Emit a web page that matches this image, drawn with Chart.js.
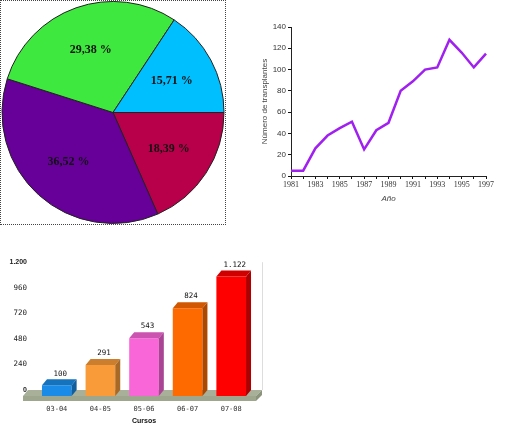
<!DOCTYPE html>
<html>
<head>
<meta charset="utf-8">
<script src="https://cdn.jsdelivr.net/npm/chart.js@4/dist/chart.umd.min.js"></script>
<style>
  html, body { margin: 0; padding: 0; background: #fff; }
  body { width: 505px; height: 426px; position: relative; overflow: hidden; }
  .box { position: absolute; }
  #pieBox { left: 0; top: 0; width: 224px; height: 223px; border: 1px dotted #444; }
  #lineBox { left: 250px; top: 10px; width: 250px; height: 210px; }
  #barBox { left: 0; top: 250px; width: 270px; height: 176px; }
</style>
</head>
<body>
<div class="box" id="pieBox"><canvas id="pieChart"></canvas></div>
<div class="box" id="lineBox"><canvas id="lineChart"></canvas></div>
<div class="box" id="barBox"><canvas id="barChart"></canvas></div>

<script>
// Tarta (en sentido horario desde las 3)
const pieValues = [18.39, 36.52, 29.38, 15.71];
const pieColors = ["#b8004a", "#660099", "#3fe83f", "#00bfff"];

// Transplantes por año
const years = ["1981", "1982", "1983", "1984", "1985", "1986", "1987", "1988", "1989",
  "1990", "1991", "1992", "1993", "1994", "1995", "1996", "1997"];
const transplantes = [5, 5, 26, 38, 45, 51, 25, 43, 50, 80, 89, 100, 102, 128, 116, 102, 115];

// Cursos
const cursos = ["03-04", "04-05", "05-06", "06-07", "07-08"];
const alumnos = [100, 291, 543, 824, 1122];
const barColors = ["#1a8ce8", "#f89b38", "#f866d8", "#ff6a00", "#ff0000"];

function fmtNum(n) {
  return String(n).replace(/\B(?=(\d{3})+(?!\d))/g, ".");
}

function shade(hex, f) {
  const n = parseInt(hex.slice(1), 16);
  const r = Math.round(((n >> 16) & 255) * f);
  const g = Math.round(((n >> 8) & 255) * f);
  const b = Math.round((n & 255) * f);
  return `rgb(${r},${g},${b})`;
}

// ---- Pie ----
const pieLabels = {
  id: "pieLabels",
  afterDatasetsDraw(chart) {
    const ctx = chart.ctx;
    ctx.save();
    ctx.font = "bold 12px 'Liberation Serif'";
    ctx.fillStyle = "#111";
    ctx.textAlign = "center";
    ctx.textBaseline = "middle";
    chart.getDatasetMeta(0).data.forEach((arc, i) => {
      const p = arc.getProps(["x", "y", "startAngle", "endAngle", "outerRadius"], true);
      const mid = (p.startAngle + p.endAngle) / 2;
      const r = p.outerRadius * 0.6;
      const txt = pieValues[i].toFixed(2).replace(".", ",") + " %";
      ctx.fillText(txt, p.x + Math.cos(mid) * r, p.y + Math.sin(mid) * r);
    });
    ctx.restore();
  },
};

new Chart(document.getElementById("pieChart"), {
  type: "pie",
  data: {
    labels: pieValues.map((v) => v + " %"),
    datasets: [{
      data: pieValues,
      backgroundColor: pieColors,
      borderColor: "#222",
      borderWidth: 1,
    }],
  },
  options: {
    responsive: true,
    maintainAspectRatio: false,
    animation: false,
    rotation: 90,
    layout: { padding: 0 },
    plugins: { legend: { display: false }, tooltip: { enabled: false } },
  },
  plugins: [pieLabels],
});

// ---- Line ----
new Chart(document.getElementById("lineChart"), {
  type: "line",
  data: {
    labels: years,
    datasets: [{
      data: transplantes,
      borderColor: "#a020f0",
      borderWidth: 2.5,
      pointRadius: 0,
      tension: 0,
      fill: false,
    }],
  },
  options: {
    responsive: true,
    maintainAspectRatio: false,
    animation: false,
    layout: { padding: { top: 17, right: 14, left: 0, bottom: 0 } },
    plugins: { legend: { display: false }, tooltip: { enabled: false } },
    scales: {
      x: {
        offset: false,
        afterFit: (s) => { s.height = 44; },
        border: { display: true, color: "#222", width: 1 },
        grid: { display: true, drawOnChartArea: false, drawTicks: true, tickLength: 3, color: "#111" },
        ticks: {
          autoSkip: false,
          maxRotation: 0,
          padding: 1,
          color: "#333",
          font: { family: "'Liberation Serif'", size: 8 },
          callback: (v, i) => (i % 2 === 0 ? years[i] : ""),
        },
        title: {
          display: true,
          text: "Año",
          color: "#444",
          font: { family: "'Liberation Sans'", size: 8, style: "italic" },
          padding: { top: 2, bottom: 16 },
        },
      },
      y: {
        min: 0,
        max: 140,
        afterFit: (s) => { s.width = 41; },
        border: { display: true, color: "#222", width: 1 },
        grid: { display: true, drawOnChartArea: false, drawTicks: true, tickLength: 3, color: "#111" },
        ticks: {
          stepSize: 20,
          padding: 2,
          color: "#333",
          font: { family: "'Liberation Sans'", size: 8 },
        },
        title: {
          display: true,
          text: "Número de transplantes",
          color: "#444",
          font: { family: "'Liberation Sans'", size: 8 },
          padding: { top: 10, bottom: 4 },
        },
      },
    },
  },
});

// ---- Bar 3D ----
const DX = 5, DY = 6, SHIFT = 6;
const bar3d = {
  id: "bar3d",
  beforeDatasetsDraw(chart) {
    const ctx = chart.ctx;
    const a = chart.chartArea;
    const y0 = chart.scales.y.getPixelForValue(0);
    // fondo derecho
    ctx.save();
    ctx.strokeStyle = "#ddd";
    ctx.lineWidth = 1;
    ctx.beginPath();
    ctx.moveTo(a.right + 9.5, a.top);
    ctx.lineTo(a.right + 9.5, y0);
    ctx.stroke();
    // suelo
    const fl = a.left - 12, fr = a.right + 3;
    ctx.fillStyle = "#a9b09a";
    ctx.beginPath();
    ctx.moveTo(fl + 5, y0);
    ctx.lineTo(fr + 6, y0);
    ctx.lineTo(fr, y0 + SHIFT);
    ctx.lineTo(fl, y0 + SHIFT);
    ctx.closePath();
    ctx.fill();
    ctx.fillStyle = "#9ea68e";
    ctx.fillRect(fl, y0 + SHIFT, fr - fl, 5);
    ctx.fillStyle = "#8c937c";
    ctx.beginPath();
    ctx.moveTo(fr, y0 + SHIFT);
    ctx.lineTo(fr + 6, y0);
    ctx.lineTo(fr + 6, y0 + 5);
    ctx.lineTo(fr, y0 + SHIFT + 5);
    ctx.closePath();
    ctx.fill();
    ctx.restore();
    ctx.save();
    ctx.translate(0, SHIFT);
  },
  afterDatasetsDraw(chart) {
    const ctx = chart.ctx;
    chart.getDatasetMeta(0).data.forEach((bar, i) => {
      const p = bar.getProps(["x", "y", "base", "width"], true);
      const l = p.x - p.width / 2, r = p.x + p.width / 2;
      ctx.fillStyle = shade(barColors[i], 0.82);
      ctx.beginPath();
      ctx.moveTo(l, p.y);
      ctx.lineTo(l + DX, p.y - DY);
      ctx.lineTo(r + DX, p.y - DY);
      ctx.lineTo(r, p.y);
      ctx.closePath();
      ctx.fill();
      ctx.fillStyle = shade(barColors[i], 0.68);
      ctx.beginPath();
      ctx.moveTo(r, p.y);
      ctx.lineTo(r + DX, p.y - DY);
      ctx.lineTo(r + DX, p.base - DY);
      ctx.lineTo(r, p.base);
      ctx.closePath();
      ctx.fill();
      ctx.fillStyle = "#111";
      ctx.font = "7.5px 'DejaVu Sans Mono'";
      ctx.textAlign = "center";
      ctx.textBaseline = "bottom";
      ctx.fillText(fmtNum(alumnos[i]), p.x + DX / 2 + 1, p.y - DY - 2);
    });
    ctx.restore();
  },
};

new Chart(document.getElementById("barChart"), {
  type: "bar",
  data: {
    labels: cursos,
    datasets: [{
      data: alumnos,
      backgroundColor: barColors,
      borderWidth: 0,
      barPercentage: 0.68,
      categoryPercentage: 1,
    }],
  },
  options: {
    responsive: true,
    maintainAspectRatio: false,
    animation: false,
    layout: { padding: { top: 12, right: 17, left: 0, bottom: 0 } },
    plugins: { legend: { display: false }, tooltip: { enabled: false } },
    scales: {
      x: {
        afterFit: (s) => { s.height = 36; },
        border: { display: false },
        grid: { display: false },
        ticks: {
          padding: 7,
          color: "#333",
          font: { family: "'DejaVu Sans Mono'", size: 7 },
        },
        title: {
          display: true,
          text: "Cursos",
          color: "#111",
          font: { family: "'Liberation Sans'", size: 7, weight: "bold" },
          padding: { top: 2, bottom: 1 },
        },
      },
      y: {
        min: 0,
        max: 1200,
        afterFit: (s) => { s.width = 35; },
        border: { display: false },
        grid: { display: false, drawTicks: false },
        ticks: {
          stepSize: 240,
          padding: 8,
          color: "#222",
          callback: (v) => fmtNum(v),
          font: (c) => (c.tick && (c.tick.value === 0 || c.tick.value === 1200)
            ? { family: "'Liberation Sans'", size: 7, weight: "bold" }
            : { family: "'DejaVu Sans Mono'", size: 7.5 }),
        },
      },
    },
  },
  plugins: [bar3d],
});
</script>
</body>
</html>
